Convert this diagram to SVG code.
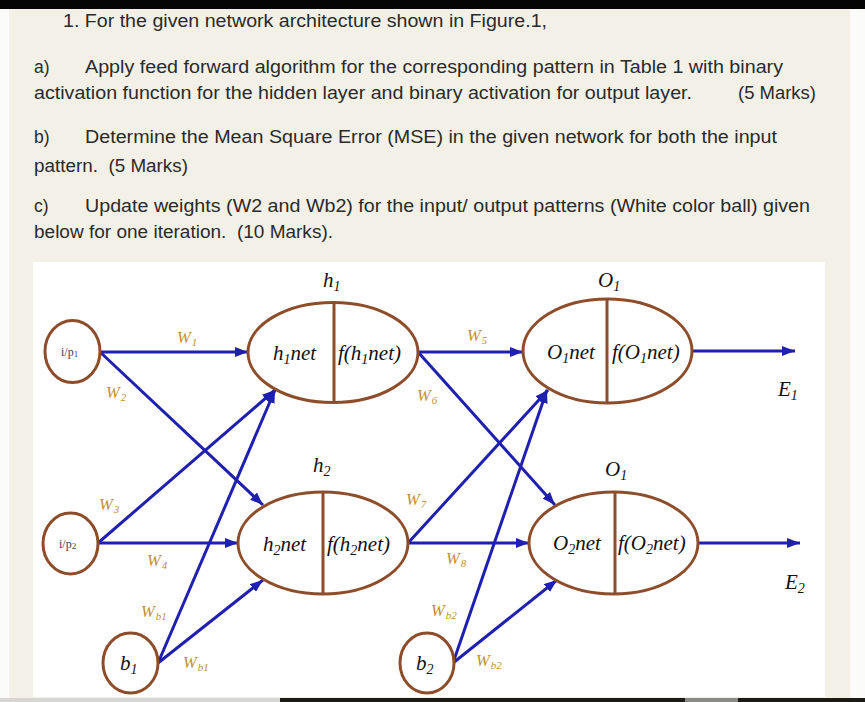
<svg xmlns="http://www.w3.org/2000/svg" width="865" height="702" viewBox="0 0 865 702">
<defs>
<style>
.q{font-family:"Liberation Sans",Arial,sans-serif;font-size:17.5px;fill:#2a2a2a}
.w{font-family:"Liberation Serif","Times New Roman",serif;font-style:italic;font-size:16.5px;fill:#c3902f}
.w .s{font-size:11px}
.t{font-family:"Liberation Serif","Times New Roman",serif;font-style:italic;font-size:21px;fill:#111}
.t .s{font-size:14px}
.ip{font-family:"Liberation Serif","Times New Roman",serif;font-size:12px;fill:#3a3a5a}
.node{fill:#fff;stroke:#8e4d2a;stroke-width:3}
.div{stroke:#8e4d2a;stroke-width:3}
.c line{stroke:#1f1fb0;stroke-width:3;marker-end:url(#ah)}
</style>
<marker id="ah" markerUnits="userSpaceOnUse" markerWidth="14" markerHeight="10" refX="13" refY="5" orient="auto"><path d="M0,0 L13,5 L0,10 z" fill="#1f1fb0"/></marker>
</defs>
<rect x="0" y="0" width="865" height="702" fill="#fbfbf9"/>
<rect x="9" y="9" width="841" height="690" fill="#f3f1e7"/>
<rect x="0" y="0" width="865" height="9" fill="#050505"/>
<rect x="33" y="262" width="792" height="435" fill="#ffffff"/>
<rect x="0" y="698" width="280" height="4" fill="#d6d6d4"/>
<rect x="280" y="698" width="405" height="4" fill="#1c1a14"/>
<rect x="685" y="698" width="53" height="4" fill="#8a8a86"/>
<rect x="738" y="698" width="127" height="4" fill="#1c1a14"/>

<g id="question">
<text class="q" x="63" y="27" textLength="484" lengthAdjust="spacingAndGlyphs">1. For the given network architecture shown in Figure.1,</text>
<text class="q" x="34" y="72.5">a)</text>
<text class="q" x="85" y="72.5" textLength="698" lengthAdjust="spacingAndGlyphs">Apply feed forward algorithm for the corresponding pattern in Table 1 with binary</text>
<text class="q" x="34" y="99" textLength="658" lengthAdjust="spacingAndGlyphs">activation function for the hidden layer and binary activation for output layer.</text>
<text class="q" x="738" y="99" textLength="78" lengthAdjust="spacingAndGlyphs">(5 Marks)</text>
<text class="q" x="34" y="143">b)</text>
<text class="q" x="85" y="143" textLength="692" lengthAdjust="spacingAndGlyphs">Determine the Mean Square Error (MSE) in the given network for both the input</text>
<text class="q" x="34" y="171.5" textLength="154" lengthAdjust="spacingAndGlyphs" xml:space="preserve">pattern.  (5 Marks)</text>
<text class="q" x="34" y="212">c)</text>
<text class="q" x="85" y="212" textLength="725" lengthAdjust="spacingAndGlyphs">Update weights (W2 and Wb2) for the input/ output patterns (White color ball) given</text>
<text class="q" x="34" y="238" textLength="299" lengthAdjust="spacingAndGlyphs" xml:space="preserve">below for one iteration.  (10 Marks).</text>
</g>

<g id="connectors" class="c">
<line x1="100" y1="352" x2="248" y2="352"/>
<line x1="100" y1="352" x2="263" y2="505"/>
<line x1="98" y1="543" x2="275" y2="390"/>
<line x1="98" y1="543" x2="238" y2="543"/>
<line x1="158" y1="663" x2="275" y2="390"/>
<line x1="158" y1="663" x2="263" y2="580"/>
<line x1="418" y1="352" x2="523" y2="352"/>
<line x1="418" y1="352" x2="555" y2="505"/>
<line x1="408" y1="543" x2="548" y2="390"/>
<line x1="408" y1="543" x2="529" y2="543"/>
<line x1="453" y1="663" x2="547" y2="390"/>
<line x1="453" y1="663" x2="557" y2="580"/>
<line x1="692" y1="351" x2="795" y2="351"/>
<line x1="698" y1="543" x2="800" y2="543"/>
</g>

<g id="weights" class="w">
<text x="177" y="343">W<tspan class="s" dx="1" dy="3">1</tspan></text>
<text x="106" y="398">W<tspan class="s" dx="1" dy="3">2</tspan></text>
<text x="99" y="510">W<tspan class="s" dx="1" dy="3">3</tspan></text>
<text x="147" y="566">W<tspan class="s" dx="1" dy="3">4</tspan></text>
<text x="141" y="617">W<tspan class="s" dx="1" dy="3">b1</tspan></text>
<text x="183" y="668">W<tspan class="s" dx="1" dy="3">b1</tspan></text>
<text x="467" y="341">W<tspan class="s" dx="1" dy="3">5</tspan></text>
<text x="417" y="401">W<tspan class="s" dx="1" dy="3">6</tspan></text>
<text x="406" y="505">W<tspan class="s" dx="1" dy="3">7</tspan></text>
<text x="446" y="564">W<tspan class="s" dx="1" dy="3">8</tspan></text>
<text x="431" y="616">W<tspan class="s" dx="1" dy="3">b2</tspan></text>
<text x="476" y="666">W<tspan class="s" dx="1" dy="3">b2</tspan></text>
</g>

<g id="ip1">
<ellipse class="node" cx="72.5" cy="351.5" rx="27.5" ry="31"/>
<text class="ip" x="61" y="356">i/p<tspan font-size="9" dy="1">1</tspan></text>
</g>
<g id="ip2">
<ellipse class="node" cx="70.5" cy="543.5" rx="27.5" ry="30.5"/>
<text class="ip" x="59" y="548">i/p<tspan font-size="9" dy="1">2</tspan></text>
</g>
<g id="b1">
<ellipse class="node" cx="130.5" cy="663" rx="27.5" ry="30"/>
<text class="t" x="120" y="670">b<tspan class="s" dy="4">1</tspan></text>
</g>
<g id="b2">
<ellipse class="node" cx="427" cy="663" rx="27" ry="30"/>
<text class="t" x="416" y="670">b<tspan class="s" dy="4">2</tspan></text>
</g>

<g id="h1">
<ellipse class="node" cx="333" cy="352.5" rx="85" ry="50"/>
<line class="div" x1="334" y1="302.5" x2="334" y2="402.5"/>
<text class="t" x="323" y="287">h<tspan class="s" dy="4">1</tspan></text>
<text class="t" x="273" y="360">h<tspan class="s" dy="4">1</tspan><tspan dy="-4">net</tspan></text>
<text class="t" x="338" y="360">f(h<tspan class="s" dy="4">1</tspan><tspan dy="-4">net)</tspan></text>
</g>
<g id="h2">
<ellipse class="node" cx="323" cy="543" rx="85" ry="51"/>
<line class="div" x1="323" y1="492" x2="323" y2="594"/>
<text class="t" x="313" y="472">h<tspan class="s" dy="4">2</tspan></text>
<text class="t" x="263" y="551">h<tspan class="s" dy="4">2</tspan><tspan dy="-4">net</tspan></text>
<text class="t" x="327" y="551">f(h<tspan class="s" dy="4">2</tspan><tspan dy="-4">net)</tspan></text>
</g>
<g id="O1">
<ellipse class="node" cx="607.5" cy="351" rx="84.5" ry="52"/>
<line class="div" x1="607" y1="299" x2="607" y2="403"/>
<text class="t" x="598" y="287">O<tspan class="s" dy="4">1</tspan></text>
<text class="t" x="547" y="359">O<tspan class="s" dy="4">1</tspan><tspan dy="-4">net</tspan></text>
<text class="t" x="612" y="359">f(O<tspan class="s" dy="4">1</tspan><tspan dy="-4">net)</tspan></text>
</g>
<g id="O2">
<ellipse class="node" cx="613.5" cy="543" rx="84.5" ry="51"/>
<line class="div" x1="615" y1="492" x2="615" y2="594"/>
<text class="t" x="605" y="476">O<tspan class="s" dy="4">1</tspan></text>
<text class="t" x="553" y="550">O<tspan class="s" dy="4">2</tspan><tspan dy="-4">net</tspan></text>
<text class="t" x="618" y="550">f(O<tspan class="s" dy="4">2</tspan><tspan dy="-4">net)</tspan></text>
</g>
<g id="E1"><text class="t" x="778" y="396">E<tspan class="s" dy="4">1</tspan></text></g>
<g id="E2"><text class="t" x="785" y="589">E<tspan class="s" dy="4">2</tspan></text></g>
</svg>
